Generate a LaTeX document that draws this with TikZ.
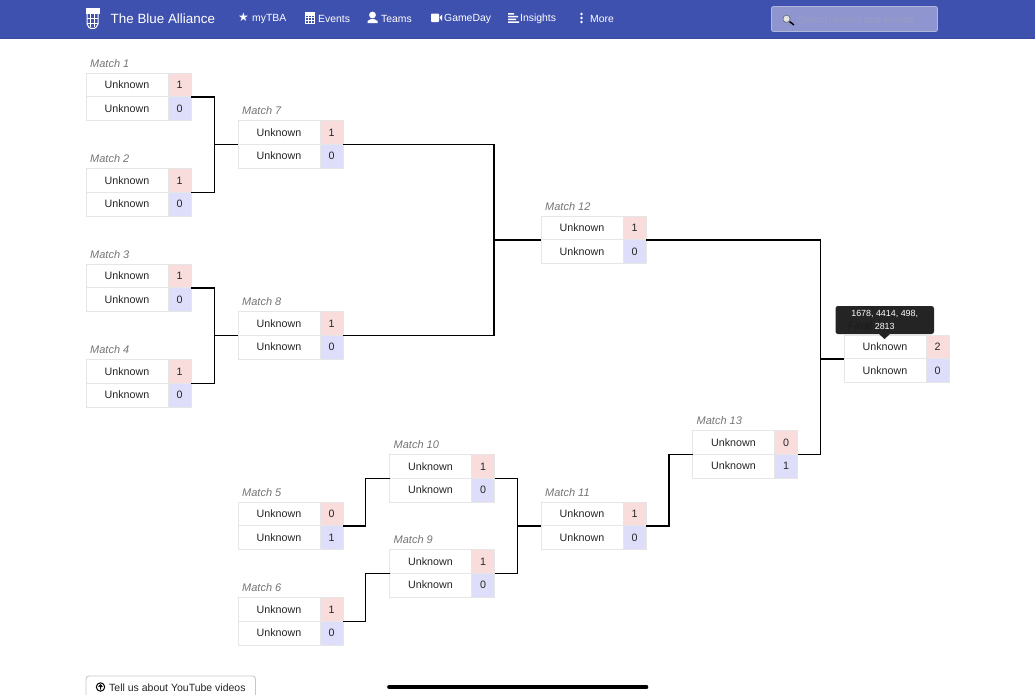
\documentclass[tikz,border=0pt]{standalone}
\usepackage{fontspec}
\setmainfont{Liberation Sans}
\newfontfamily\symfont{DejaVu Sans}
\definecolor{navblue}{HTML}{3F51AE}
\definecolor{navdark}{HTML}{3A4A9F}
\definecolor{searchfill}{HTML}{8F96CF}
\definecolor{searchtext}{HTML}{9A9DC4}
\definecolor{redcell}{HTML}{F9DDDD}
\definecolor{bluecell}{HTML}{DEDEFA}
\definecolor{cellline}{HTML}{E6E6E6}
\definecolor{labelgray}{HTML}{757575}
\definecolor{tipdark}{HTML}{141414}
\tikzset{
  matchframe/.style={minimum width=105pt,minimum height=47.5pt,inner sep=0pt,outer sep=0pt,anchor=north west},
  teamcell/.style={draw=cellline,line width=.9pt,fill=white,minimum width=82pt,minimum height=23.75pt,
    inner sep=0pt,outer sep=0pt,anchor=north west,font=\fontsize{10.7}{14}\selectfont,text=black!85},
  redscore/.style={teamcell,fill=redcell,minimum width=23pt},
  bluescore/.style={teamcell,fill=bluecell,minimum width=23pt},
  matchlabel/.style={anchor=west,inner sep=0pt,text=labelgray,font=\fontsize{11}{13}\selectfont\itshape},
  bracket/.style={line width=1.5pt,black},
  navtext/.style={anchor=west,inner sep=0pt,text=white,font=\fontsize{10.4}{13}\selectfont},
}
% name, x, y, label, top score, bottom score
\newcommand{\matchbox}[6]{
  \node[matchframe] (#1) at (#2,#3) {};
  \node[matchlabel] (#1l) at (#2+4,#3-9.7) {#4};
  \node[teamcell] (#1a) at (#1.north west) {Unknown};
  \node[teamcell] (#1b) at (#1a.south west) {Unknown};
  \node[redscore] (#1as) at (#1a.north east) {#5};
  \node[bluescore] (#1bs) at (#1b.north east) {#6};
}
\begin{document}
\begin{tikzpicture}[x=1pt,y=-1pt]
      \useasboundingbox (0,0) rectangle (1035,694);
      \fill[white] (0,0) rectangle (1035,694);

      % top bar
      \fill[navblue] (0,0) rectangle (1035,38);
      \fill[navdark] (0,38) rectangle (1035,39.2);
      \begin{scope}[white]
        \fill (85.5,8) rectangle (99.5,13.5);
        \draw[line width=1pt,rounded corners=2pt] (87,14) -- (87,26) -- (92.5,29.5) -- (98,26) -- (98,14);
        \draw[line width=.8pt] (90.6,14) -- (90.6,27) (94.4,14) -- (94.4,27) (87,18.5) -- (98,18.5) (87,23) -- (98,23);
        % calendar
        \fill (304.5,12) rectangle (314.5,23.5);
        \fill[navblue] (305.5,15.5) rectangle (313.5,22.5);
        \draw[line width=.5pt] (305.5,17.5) -- (313.5,17.5) (305.5,20) -- (313.5,20) (308,15.5) -- (308,22.5) (311,15.5) -- (311,22.5);
        % person
        \fill (372.5,15) circle (3.4);
        \fill (367.5,23) -- (367.5,21) -- (371,19) -- (374,19) -- (377.5,21) -- (377.5,23) -- cycle;
        % camera
        \fill[rounded corners=.8pt] (431,13.5) rectangle (439,22);
        \fill (439.5,17.5) -- (442,14.5) -- (442,21) -- cycle;
        % list
        \fill (508,13) rectangle (514,14.5) (508,15.8) rectangle (518,17.3) (508,18.6) rectangle (516,20.1) (508,21.4) rectangle (519,22.9);
        % dots
        \fill (581.5,14) circle (1.3) (581.5,18) circle (1.3) (581.5,22) circle (1.3);
      \end{scope}
      \node[navtext,font=\fontsize{13.4}{16}\selectfont] (title) at (110.5,18.8) {The Blue Alliance};
      \node[navtext,font=\symfont\fontsize{12}{13}\selectfont] (star) at (238,17.5) {★};
      \node[navtext] (mytba) at (252,18.5) {myTBA};
      \node[navtext] (events) at (318,18.5) {Events};
      \node[navtext] (teams) at (381,18.5) {Teams};
      \node[navtext] (gameday) at (444,18.5) {GameDay};
      \node[navtext] (insights) at (520,18.5) {Insights};
      \node[navtext] (more) at (590,18.5) {More};
      \draw[searchfill!70!white,fill=searchfill,line width=.8pt,rounded corners=2pt] (771.5,6.5) rectangle (937.5,31.5);
      \draw[black,line width=1.4pt] (789.5,21.5) -- (794,25);
      \draw[black!60,fill=black!10,line width=.6pt] (786.5,18.8) circle (3.6);
      \node[navtext,text=searchtext,font=\fontsize{10.2}{13}\selectfont] (search) at (798,19.5) {Search teams and events};

      % matches
      \matchbox{mA}{86}{73}{Match 1}{1}{0}
      \matchbox{mB}{86}{168.5}{Match 2}{1}{0}
      \matchbox{mC}{86}{264}{Match 3}{1}{0}
      \matchbox{mD}{86}{359.5}{Match 4}{1}{0}
      \matchbox{mE}{238}{502}{Match 5}{0}{1}
      \matchbox{mF}{238}{597.5}{Match 6}{1}{0}
      \matchbox{mG}{238}{120.5}{Match 7}{1}{0}
      \matchbox{mH}{238}{311.5}{Match 8}{1}{0}
      \matchbox{mI}{389.5}{549.5}{Match 9}{1}{0}
      \matchbox{mJ}{389.5}{454.5}{Match 10}{1}{0}
      \matchbox{mK}{541}{502}{Match 11}{1}{0}
      \matchbox{mL}{541}{216}{Match 12}{1}{0}
      \matchbox{mM}{692.5}{430.5}{Match 13}{0}{1}
      \matchbox{mN}{844}{335}{Final}{2}{0}

      % bracket joints
      \coordinate (jG) at (214.5,144.25);
      \coordinate (jH) at (214.5,335.25);
      \coordinate (jL) at (494,239.75);
      \coordinate (jE) at (365.5,525.75);
      \coordinate (jF) at (365.5,621.25);
      \coordinate (jK) at (517.5,525.75);
      \coordinate (jM) at (669,454.25);
      \coordinate (jN) at (820.5,358.75);

      \draw[bracket] (mA.east) -| (jG);
      \draw[bracket] (mB.east) -| (jG);
      \draw[bracket] (jG) -- (mG.west);
      \draw[bracket] (mC.east) -| (jH);
      \draw[bracket] (mD.east) -| (jH);
      \draw[bracket] (jH) -- (mH.west);
      \draw[bracket] (mG.east) -| (jL);
      \draw[bracket] (mH.east) -| (jL);
      \draw[bracket] (jL) -- (mL.west);
      \draw[bracket] (mE.east) -- (jE) |- (mJ.west);
      \draw[bracket] (mF.east) -- (jF) |- (mI.west);
      \draw[bracket] (mJ.east) -| (jK);
      \draw[bracket] (mI.east) -| (jK);
      \draw[bracket] (jK) -- (mK.west);
      \draw[bracket] (mK.east) -| (jM) -- (mM.west);
      \draw[bracket] (mL.east) -| (jN);
      \draw[bracket] (mM.east) -| (jN);
      \draw[bracket] (jN) -- (mN.west);

      % tooltip over the final
      \fill[tipdark,opacity=.93,rounded corners=2.5pt] (835.5,306) rectangle (934,334);
      \fill[tipdark,opacity=.93] (879,334) -- (884.5,339) -- (890,334) -- cycle;
      \node[inner sep=0pt,text=white,align=center,font=\fontsize{8.9}{13}\selectfont] (tip) at (884.7,320) {1678, 4414, 498,\\2813};

      % page foot
      \draw[black!22,line width=.9pt,rounded corners=3pt] (86,700) -- (86,676) -- (255.5,676) -- (255.5,700);
      \draw[black,line width=1pt] (100.5,687) circle (4.2);
      \draw[black,line width=1pt] (100.5,689.5) -- (100.5,685.2) (98.6,686.8) -- (100.5,684.8) -- (102.4,686.8);
      \node[anchor=west,inner sep=0pt,font=\fontsize{10.5}{13}\selectfont,text=black!85] (youtube) at (109,687.5) {Tell us about YouTube videos};
      \draw[black,line width=3.6pt,line cap=round] (389,687) -- (646.5,687);
    \end{tikzpicture}
\end{document}
